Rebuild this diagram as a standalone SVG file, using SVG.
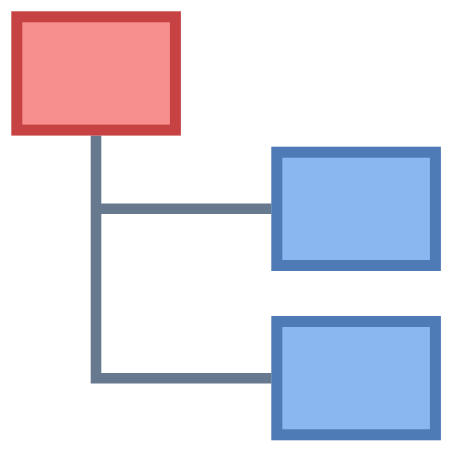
<svg xmlns="http://www.w3.org/2000/svg" width="452" height="452" viewBox="0 0 452 452">
<style>
.red{fill:#f78f8f;stroke:#c74343;stroke-width:11}
.blue{fill:#8bb7f0;stroke:#4e7ab5;stroke-width:11}
.conn{fill:none;stroke:#66798f;stroke-width:10.6;stroke-linejoin:miter;stroke-linecap:butt}
</style>
<rect width="452" height="452" fill="#ffffff"/>
<g id="connectors">
<path class="conn" d="M96 135.6 V378.2 H271.5"/>
<path class="conn" d="M96 208.7 H271.5"/>
</g>
<g id="root"><rect class="red" x="16.8" y="16.8" width="158.6" height="113.3"/></g>
<g id="child1"><rect class="blue" x="276.8" y="152.2" width="158.6" height="113.3"/></g>
<g id="child2"><rect class="blue" x="276.8" y="321.5" width="158.6" height="113.3"/></g>
</svg>
